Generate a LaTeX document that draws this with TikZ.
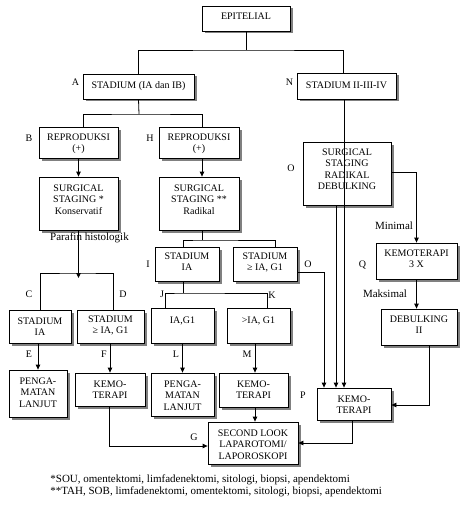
\documentclass[tikz,border=0pt]{standalone}
\usepackage{fontspec}
\setmainfont{Liberation Serif}
\usetikzlibrary{arrows.meta,shadows}
\newcommand{\bt}[4]{\parbox[c][#2][t]{#1}{\centering\rule{0pt}{#3}#4\par}}
\begin{document}
\begin{tikzpicture}[x=1pt,y=-1pt,line width=0.8pt,
  font=\fontsize{10pt}{11.5pt}\selectfont,
  box/.style={draw,fill=white,inner sep=0pt,
    drop shadow={shadow xshift=2.5pt,shadow yshift=-2.5pt,fill=black!50,opacity=1}},
  lbl/.style={inner sep=0pt,anchor=base},
  word/.style={inner sep=0pt,anchor=base,font=\fontsize{11pt}{13pt}\selectfont},
  note/.style={inner sep=0pt,anchor=base west,font=\fontsize{11pt}{13pt}\selectfont},
  arr/.style={-{Triangle[length=5pt,width=4.5pt]}}]
\fill[white] (0,0) rectangle (468,508);
\useasboundingbox (0,0) rectangle (468,508);
% boxes
\node[box] (epi) at (246,18.5) {\bt{88pt}{25pt}{14pt}{EPITELIAL}};
\node[box] (A) at (138.5,86.5) {\bt{111pt}{25pt}{15pt}{STADIUM (IA dan IB)}};
\node[box] (N) at (346.5,86) {\bt{99pt}{26pt}{15pt}{STADIUM II-III-IV}};
\node[box] (B) at (78.5,142.5) {\bt{79pt}{31pt}{13pt}{REPRODUKSI\\(+)}};
\node[box] (H) at (199,142.5) {\bt{80pt}{31pt}{13pt}{REPRODUKSI\\(+)}};
\node[box] (S1) at (78.5,203.5) {\bt{79pt}{53pt}{14pt}{SURGICAL\\STAGING *\\Konservatif}};
\node[box] (S2) at (199,203.5) {\bt{80pt}{53pt}{14pt}{SURGICAL\\STAGING **\\Radikal}};
\node[box] (O) at (347,173.5) {\bt{88pt}{63pt}{13pt}{SURGICAL\\STAGING\\RADIKAL\\DEBULKING}};
\node[box] (Q) at (416.5,261) {\bt{81pt}{36pt}{13pt}{KEMOTERAPI\\3 X}};
\node[box] (I1) at (187,264) {\bt{64pt}{34pt}{12pt}{STADIUM\\IA}};
\node[box] (I2) at (265,264) {\bt{64pt}{34pt}{12pt}{STADIUM\\≥ IA, G1}};
\node[box] (C) at (40,326.5) {\bt{62pt}{33pt}{14pt}{STADIUM\\IA}};
\node[box] (D) at (110.5,326.5) {\bt{67pt}{33pt}{12pt}{STADIUM\\≥ IA, G1}};
\node[box] (J) at (182.5,325.5) {\bt{63pt}{35pt}{15pt}{IA,G1}};
\node[box] (K) at (258.5,325.5) {\bt{63pt}{35pt}{15pt}{>IA, G1}};
\node[box] (DB) at (419,327) {\bt{76pt}{36pt}{13pt}{DEBULKING\\II}};
\node[box] (E) at (38,393.5) {\bt{58pt}{47pt}{14pt}{PENGA-\\MATAN\\LANJUT}};
\node[box] (F) at (110,389.5) {\bt{70pt}{33pt}{14pt}{KEMO-\\TERAPI}};
\node[box] (L) at (182.5,394.5) {\bt{63pt}{43pt}{14pt}{PENGA-\\MATAN\\LANJUT}};
\node[box] (M) at (253.5,390) {\bt{69pt}{34pt}{14pt}{KEMO-\\TERAPI}};
\node[box] (P) at (354,404) {\bt{74pt}{32pt}{14pt}{KEMO-\\TERAPI}};
\node[box] (G) at (253,443) {\bt{90pt}{42pt}{14pt}{SECOND LOOK\\LAPAROTOMI/\\LAPOROSKOPI}};
% labels
\node[lbl] (lA) at (75.5,86) {A};
\node[lbl] (lN) at (289.5,86) {N};
\node[lbl] (lB) at (29,141) {B};
\node[lbl] (lH) at (150,141) {H};
\node[lbl] (lO1) at (291,171) {O};
\node[lbl] (lQ) at (362.5,267) {Q};
\node[word] (lmin) at (394,229) {Minimal};
\node[lbl] (lI) at (148,267) {I};
\node[lbl] (lO2) at (308,267) {O};
\node[lbl] (lC) at (29,297) {C};
\node[lbl] (lD) at (123,297) {D};
\node[lbl] (lJ) at (162,297) {J};
\node[lbl] (lK) at (272,298) {K};
\node[word] (lmak) at (385,297) {Maksimal};
\node[word] (lpar) at (89.5,240) {Parafin histologik};
\node[lbl] (lE) at (29,357) {E};
\node[lbl] (lF) at (104,357) {F};
\node[lbl] (lL) at (176,357) {L};
\node[lbl] (lM) at (247,357) {M};
\node[lbl] (lP) at (303,398) {P};
\node[lbl] (lG) at (194,440) {G};
\node[note] (fn1) at (50,482) {*SOU, omentektomi, limfadenektomi, sitologi, biopsi, apendektomi};
\node[note] (fn2) at (50,494) {**TAH, SOB, limfadenektomi, omentektomi, sitologi, biopsi, apendektomi};
% connectors
\coordinate (j1) at (246,50);
\draw (epi.south) -- (j1);
\draw (A.north) |- (j1) -| ([xshift=-3.5pt]N.north);
\coordinate (j2) at (139,114);
\draw (A.south) -- (j2);
\draw ([xshift=4.5pt]B.north) |- (j2) -| ([xshift=3pt]H.north);
\draw[arr] (B.south) -- (S1.north);
\draw[arr] ([xshift=3pt]H.south) -- ([xshift=3pt]S2.north);
\coordinate (j3) at (78.5,273);
\draw[arr] (S1.south) -- ([yshift=-5pt]j3);
\draw (C.north) |- (j3) -| ([xshift=2.5pt]D.north);
\coordinate (j4) at (202,240);
\draw ([xshift=3pt]S2.south) -- (j4);
\draw ([xshift=-4pt]I1.north) |- (j4) -| ([xshift=10pt]I2.north);
\coordinate (j5) at (183,293);
\draw ([xshift=-4pt]I1.south) -- (j5);
\draw ([xshift=-17.5pt]J.north) |- (j5) -| ([xshift=8.5pt]K.north);
\draw[arr] ([yshift=-8pt]I2.east) -| ([xshift=-30pt]P.north);
\draw[arr] ([xshift=-11pt]O.south) -- ([xshift=-18pt]P.north);
\draw[arr] ([xshift=-2.5pt]N.south) -- ([xshift=-10pt]P.north);
\draw[arr] ([yshift=1.5pt]O.east) -| (Q.north);
\draw[arr] (Q.south) -- (Q.south |- DB.north);
\draw[arr] ([xshift=10pt]DB.south) |- ([yshift=-1pt]P.east);
\draw[arr] (C.south -| E.north) -- (E.north);
\draw[arr] (D.south -| F.north) -- (F.north);
\draw[arr] (J.south) -- (J.south |- L.north);
\draw[arr] ([xshift=-3.5pt]K.south) -- ([xshift=1.5pt]M.north);
\draw[arr] ([xshift=1.5pt]M.south) -- ([xshift=2pt]G.north);
\draw[arr] ([xshift=-1pt]F.south) |- ([yshift=-3pt]G.west);
\draw[arr] ([xshift=-2pt]P.south) |- (G.east);
\end{tikzpicture}
\end{document}
